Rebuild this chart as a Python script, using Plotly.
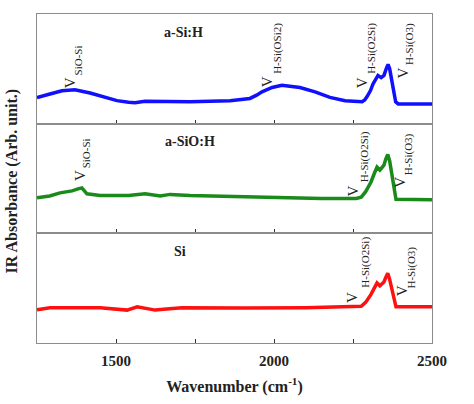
import plotly.graph_objects as go
from plotly.subplots import make_subplots

# Wavenumber (cm^-1) and absorbance (arb., panel-normalised)
x_asih = [1250, 1270, 1291, 1329, 1370, 1418, 1465, 1503, 1540, 1560, 1592, 1655, 1734, 1861, 1924, 1945, 1962, 1994,
          2025, 2082, 2130, 2177, 2225, 2279, 2287, 2294, 2305, 2313, 2322, 2329, 2339, 2348, 2355, 2361, 2366,
          2372, 2378, 2385, 2393, 2500]
y_asih = [0.237, 0.25, 0.27, 0.30, 0.31, 0.28, 0.245, 0.21, 0.195, 0.19, 0.205, 0.20, 0.20, 0.21, 0.23, 0.26, 0.29,
          0.33, 0.35, 0.33, 0.29, 0.24, 0.21, 0.20, 0.215, 0.245, 0.30, 0.36, 0.41, 0.44, 0.42, 0.44, 0.50, 0.54,
          0.50, 0.40, 0.28, 0.20, 0.18, 0.18]

x_asioh = [1250, 1290, 1323, 1361, 1380, 1392, 1408, 1450, 1540, 1592, 1640, 1671, 1734, 1880, 2000, 2150,
           2260, 2276, 2290, 2307, 2318, 2326, 2335, 2348, 2354, 2360, 2366, 2372, 2378, 2386, 2500]
y_asioh = [0.324, 0.34, 0.369, 0.387, 0.405, 0.414, 0.36, 0.345, 0.345, 0.36, 0.34, 0.355, 0.345, 0.333,
           0.324, 0.318, 0.318, 0.33, 0.38, 0.468, 0.55, 0.604, 0.577, 0.622, 0.68, 0.72, 0.66, 0.55, 0.42,
           0.31, 0.306]

x_si = [1250, 1291, 1450, 1535, 1567, 1600, 1624, 1660, 1709, 1900, 2100, 2276, 2290, 2307, 2318, 2326,
        2335, 2348, 2354, 2360, 2366, 2372, 2378, 2386, 2500]
y_si = [0.304, 0.322, 0.322, 0.30, 0.33, 0.31, 0.30, 0.31, 0.322, 0.318, 0.322, 0.335, 0.37, 0.443, 0.51,
        0.548, 0.522, 0.557, 0.60, 0.635, 0.58, 0.50, 0.40, 0.33, 0.33]

series = [(x_asih, y_asih, "#1010ff"), (x_asioh, y_asioh, "#1a8a1a"), (x_si, y_si, "#ff1010")]
panel_names = ["a-Si:H", "a-SiO:H", "Si"]
name_pos = [(183, 33), (190, 146), (180, 259)]  # layout positions (px)

# peak labels: (subscript text, V centre px, subscript centre px)
peak_labels = [
    ("SiO-Si", (70, 85), (78, 62)),
    ("H-Si(OSi2)", (267, 84), (278, 50)),
    ("H-Si(O2Si)", (362, 85), (372, 50)),
    ("H-Si(O3)", (403, 75), (410, 45)),
    ("SiO-Si", (80, 181), (86, 158)),
    ("H-Si(O2Si)", (353, 197), (364, 162)),
    ("H-Si(O3)", (400, 188), (408, 159)),
    ("H-Si(O2Si)", (352, 307), (366, 271)),
    ("H-Si(O3)", (402, 300), (412, 276)),
]

tick_vals = [1250, 1500, 1750, 2000, 2250, 2500]
tick_text = ["", "<b>1500</b>", "", "<b>2000</b>", "", "<b>2500</b>"]

L, R, T, B, W, H = 37, 42, 14, 50, 474, 404
PW, PH = W - L - R, H - T - B


def px2paper(px, py):
    return (px - L) / PW, (H - B - py) / PH


fig = make_subplots(rows=3, cols=1, shared_xaxes=True, vertical_spacing=0)
for i, (xs, ys, c) in enumerate(series, start=1):
    fig.add_trace(go.Scatter(x=xs, y=ys, mode="lines", line=dict(color=c, width=3.5),
                             showlegend=False), row=i, col=1)
    fig.update_yaxes(range=[0, 1], showticklabels=False, ticks="", showgrid=False, zeroline=False,
                     showline=True, linecolor="#8c8c8c", linewidth=1, mirror=True, row=i, col=1)
    fig.update_xaxes(range=[1250, 2500], tickvals=tick_vals, ticktext=tick_text, ticks="inside", ticklen=4,
                     tickcolor="#333", showgrid=False, zeroline=False, showline=True, linecolor="#8c8c8c",
                     linewidth=1, mirror=True, row=i, col=1, ticklabelstandoff=4,
                     tickfont=dict(family="Liberation Serif", size=15, color="#222"))

fig.update_xaxes(title_text="<b>Wavenumber (cm<sup>-1</sup>)</b>", title_standoff=12,
                 title_font=dict(family="Liberation Serif", size=16, color="#222"), row=3, col=1)

anns = []
for nm, (nx, ny) in zip(panel_names, name_pos):
    ax_, ay_ = px2paper(nx, ny)
    anns.append(dict(text="<b>" + nm + "</b>", x=ax_, y=ay_, xref="paper", yref="paper",
                     xanchor="center", yanchor="middle",
                     showarrow=False, font=dict(family="Liberation Serif", size=14, color="#222")))
for t, vpos, spos in peak_labels:
    ax_, ay_ = px2paper(*vpos)
    anns.append(dict(text="V", x=ax_, y=ay_, xref="paper", yref="paper", textangle=-90,
                     xanchor="center", yanchor="middle", width=12, height=17,
                     showarrow=False, font=dict(family="Liberation Serif", size=15, color="#222")))
    ax_, ay_ = px2paper(*spos)
    anns.append(dict(text=t, x=ax_, y=ay_, xref="paper", yref="paper", textangle=-90,
                     xanchor="center", yanchor="middle",
                     showarrow=False, font=dict(family="Liberation Serif", size=11, color="#222")))
ax_, ay_ = px2paper(12, 187)
anns.append(dict(text="<b>IR Absorbance (Arb. unit.)</b>", x=ax_, y=ay_, xref="paper", yref="paper",
                 xanchor="center", yanchor="middle",
                 showarrow=False, textangle=-90, font=dict(family="Liberation Serif", size=16, color="#222")))

fig.update_layout(width=W, height=H, margin=dict(l=L, r=R, t=T, b=B), plot_bgcolor="white",
                  paper_bgcolor="white", annotations=anns)
fig.write_html("out.html")
